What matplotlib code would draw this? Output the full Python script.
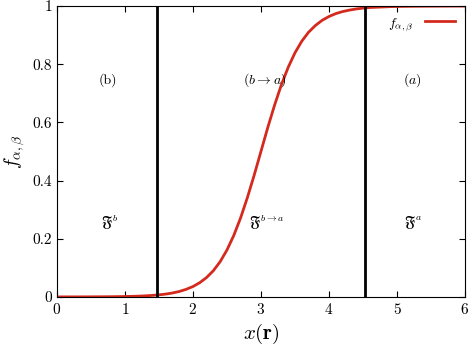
import numpy as np
from matplotlib import pyplot as plt

plt.rcParams['font.family'] = 'serif'
plt.rcParams['font.serif'] = ['cmr10', 'DejaVu Serif']
plt.rcParams['mathtext.fontset'] = 'cm'
plt.rcParams['axes.unicode_minus'] = False
plt.rcParams['axes.formatter.use_mathtext'] = True

# switching function
x_vals = [0.0, 0.1, 0.2, 0.3, 0.4, 0.5, 0.6, 0.7, 0.8, 0.9,
          1.0, 1.1, 1.2, 1.3, 1.4, 1.5, 1.6, 1.7, 1.8, 1.9,
          2.0, 2.1, 2.2, 2.3, 2.4, 2.5, 2.6, 2.7, 2.8, 2.9,
          3.0, 3.1, 3.2, 3.3, 3.4, 3.5, 3.6, 3.7, 3.8, 3.9,
          4.0, 4.1, 4.2, 4.3, 4.4, 4.5, 4.6, 4.7, 4.8, 4.9,
          5.0, 5.25, 5.5, 5.75, 6.0]
f_vals = [0.00005, 0.00007, 0.0001, 0.00013, 0.0002, 0.00026, 0.0004, 0.0005, 0.0007, 0.001,
          0.0014, 0.0019, 0.0026, 0.0037, 0.0051, 0.0071, 0.0097, 0.0135, 0.0187, 0.026,
          0.0356, 0.0488, 0.0665, 0.090, 0.121, 0.161, 0.211, 0.271, 0.341, 0.418,
          0.5, 0.582, 0.659, 0.729, 0.789, 0.839, 0.879, 0.910, 0.933, 0.951,
          0.964, 0.974, 0.981, 0.986, 0.990, 0.993, 0.995, 0.996, 0.997, 0.998,
          0.9986, 0.9993, 0.9996, 0.9998, 1.0]

x_bounds = [1.47, 4.53]
region_labels = [(0.75, '(b)'), (3.05, r'$(b\rightarrow a)$'), (5.22, r'$(a)$')]
frak_labels = [(0.78, r'$\mathfrak{F}^{b}$'), (3.08, r'$\mathfrak{F}^{b\rightarrow a}$'),
               (5.24, r'$\mathfrak{F}^{a}$')]

fig = plt.figure(figsize=(4.74, 3.56), dpi=100)
ax = fig.add_axes([0.120, 0.166, 0.861, 0.817])

ax.plot(x_vals, f_vals, color='#d42a1e', lw=2, label=r'$f_{\alpha,\beta}$')
for xb in x_bounds:
    ax.axvline(xb, color='black', lw=2)

for xp, t in region_labels:
    ax.text(xp, 0.745, t, ha='center', va='center', fontsize=10)
for xp, t in frak_labels:
    ax.text(xp, 0.255, t, ha='center', va='center', fontsize=10)

ax.set_xlim(0, 6)
ax.set_ylim(0, 1)
ax.set_xticks([0, 1, 2, 3, 4, 5, 6])
ax.set_yticks([0, 0.2, 0.4, 0.6, 0.8, 1])
ax.set_yticklabels(['0', '0.2', '0.4', '0.6', '0.8', '1'])
ax.tick_params(direction='in', top=True, right=True, labelsize=11, length=4)
ax.set_xlabel(r'$x(\mathbf{r})$', fontsize=15)
ax.set_ylabel(r'$f_{\alpha,\beta}$', fontsize=14)

ax.legend(loc='upper right', frameon=False, fontsize=10, handlelength=2.2,
          markerfirst=False, borderaxespad=0.3)

fig.savefig('out.png', dpi=100)
